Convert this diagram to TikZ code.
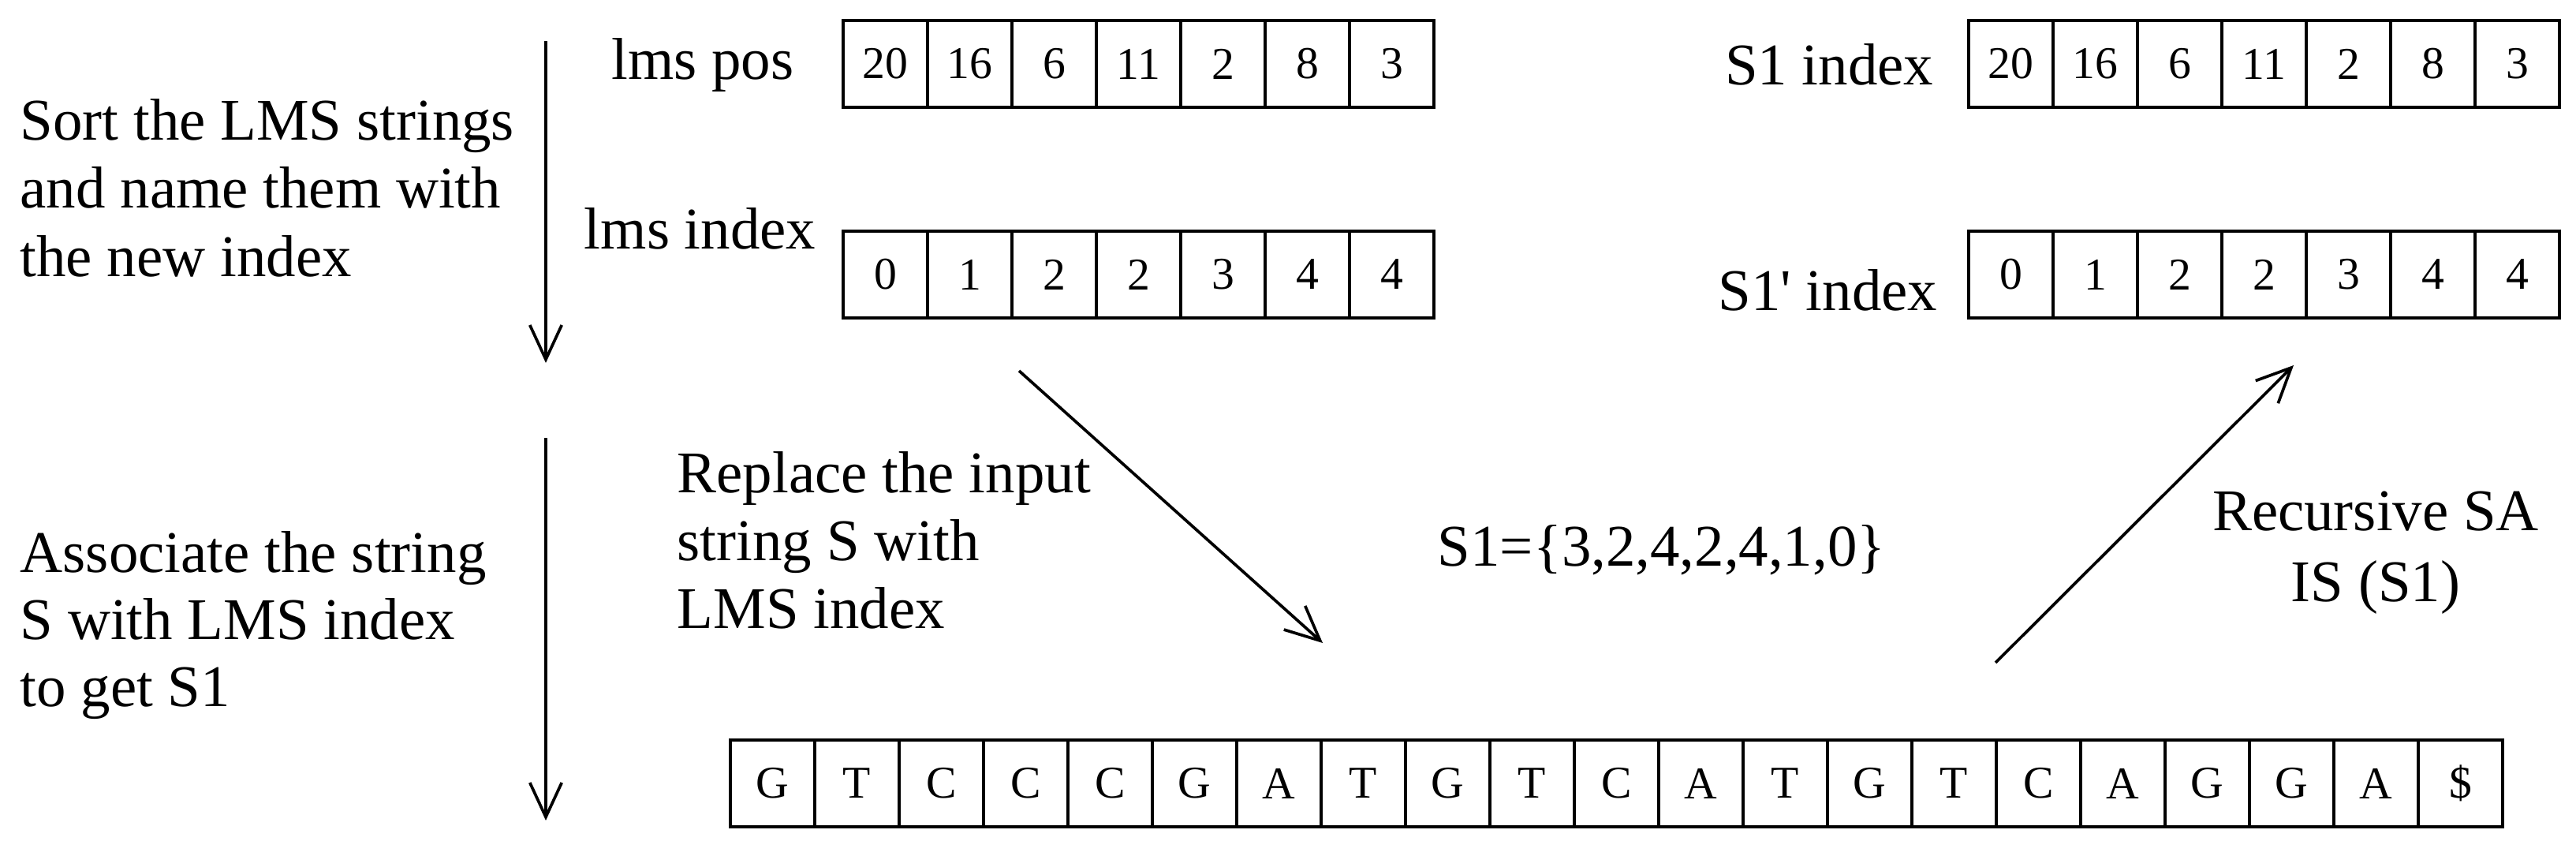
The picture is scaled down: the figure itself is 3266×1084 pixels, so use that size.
\documentclass[tikz,border=0pt]{standalone}
\usepackage{fontspec}
\setmainfont{Liberation Serif}
\usetikzlibrary{arrows.meta}
\begin{document}
\begin{tikzpicture}[x=0.01cm,y=-0.01cm,
  lbl/.style={inner sep=0pt, font=\fontsize{21.3pt}{24.5pt}\selectfont},
  cell/.style={draw, line width=1.25pt, minimum width=1.07cm, minimum height=1.1cm, inner sep=0pt, font=\fontsize{16.4pt}{19pt}\selectfont},
  flow/.style={line width=1.05pt, -{Straight Barb[length=12.4pt,width=11.5pt]}}]
\useasboundingbox (0,0) rectangle (3266,1084);

% left texts
\node[lbl, anchor=base west] (sort1) at (25,177) {Sort the LMS strings};
\node[lbl, anchor=base west] (sort2) at (25,263) {and name them with};
\node[lbl, anchor=base west] (sort3) at (25,350) {the new index};
\node[lbl, anchor=base west] (asso1) at (25,725) {Associate the string};
\node[lbl, anchor=base west] (asso2) at (25,810) {S with LMS index};
\node[lbl, anchor=base west] (asso3) at (25,895) {to get S1};

% vertical arrows
\coordinate (v1s) at (692,52); \coordinate (v1e) at (692,460);
\coordinate (v2s) at (692,555); \coordinate (v2e) at (692,1040);
\draw[flow] (v1s) -- (v1e);
\draw[flow] (v2s) -- (v2e);

% labels of arrays
\node[lbl, anchor=base east] (lmspos) at (1007,100) {lms pos};
\node[lbl, anchor=base east] (lmsidx) at (1035,315) {lms index};
\node[lbl, anchor=base east] (s1idx) at (2452,107) {S1 index};
\node[lbl, anchor=base east] (s1pidx) at (2457,393) {S1\textquotesingle\ index};

% arrays
\foreach \v [count=\i] in {20,16,6,11,2,8,3}
  \node[cell] (lp\i) at ({1069+(\i-0.5)*107},81) {\v};
\foreach \v [count=\i] in {0,1,2,2,3,4,4}
  \node[cell] (li\i) at ({1069+(\i-0.5)*107},348) {\v};
\foreach \v [count=\i] in {20,16,6,11,2,8,3}
  \node[cell] (sp\i) at ({2496+(\i-0.5)*107},81) {\v};
\foreach \v [count=\i] in {0,1,2,2,3,4,4}
  \node[cell] (si\i) at ({2496+(\i-0.5)*107},348) {\v};
\foreach \v [count=\i] in {G,T,C,C,C,G,A,T,G,T,C,A,T,G,T,C,A,G,G,A,\$}
  \node[cell] (st\i) at ({926+(\i-0.5)*107},993) {\v};

% middle texts
\node[lbl, anchor=base west] (rep1) at (858,624) {Replace the input};
\node[lbl, anchor=base west] (rep2) at (858,710) {string S with};
\node[lbl, anchor=base west] (rep3) at (858,796) {LMS index};
\node[lbl, anchor=base west] (s1) at (1822,717) {S1=\{3,2,4,2,4,1,0\}};
\node[lbl, anchor=base] (rec1) at (3012,672) {Recursive SA};
\node[lbl, anchor=base] (rec2) at (3012,762) {IS (S1)};

% diagonal arrows
\coordinate (d1s) at (1292,470); \coordinate (d1e) at (1677,815);
\coordinate (d2s) at (2530,840); \coordinate (d2e) at (2908,463);
\draw[flow] (d1s) -- (d1e);
\draw[flow] (d2s) -- (d2e);
\end{tikzpicture}
\end{document}
